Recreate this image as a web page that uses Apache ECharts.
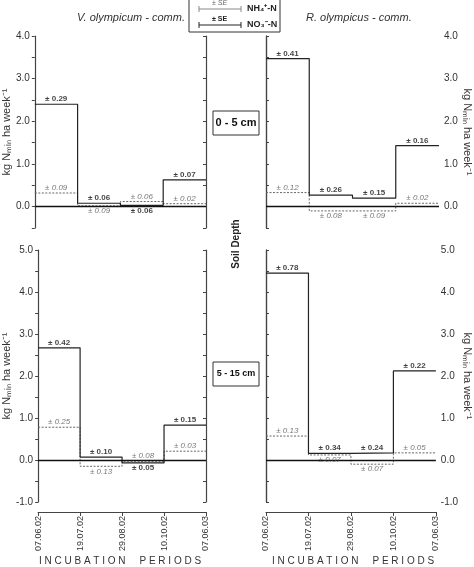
<!DOCTYPE html><html><head><meta charset="utf-8">
<script src="https://cdn.jsdelivr.net/npm/echarts@6/dist/echarts.min.js"></script>
<style>html,body{margin:0;padding:0;background:#fff}#c{width:474px;height:567px}</style></head><body><div id="c"></div>
<script>
const dates=['07.06.02','19.07.02','29.08.02','10.10.02','07.06.03'];
const titles=['V. olympicum - comm.','R. olympicus - comm.'];
const no3_TL=[2.40,0.08,0.03,0.63], nh4_TL=[0.32,0.02,0.12,0.07];
const no3_TR=[3.47,0.27,0.20,1.43], nh4_TR=[0.33,-0.10,-0.10,0.08];
const no3_BL=[2.67,0.07,-0.07,0.83], nh4_BL=[0.78,-0.15,-0.03,0.21];
const no3_BR=[4.45,0.16,0.17,2.12], nh4_BR=[0.57,0.12,-0.10,0.17];
const se_no3_TL=['0.29','0.06','0.06','0.07'], se_nh4_TL=['0.09','0.09','0.06','0.02'];
const se_no3_TR=['0.41','0.26','0.15','0.16'], se_nh4_TR=['0.12','0.08','0.09','0.02'];
const se_no3_BL=['0.42','0.10','0.05','0.15'], se_nh4_BL=['0.25','0.13','0.08','0.03'];
const se_no3_BR=['0.78','0.34','0.24','0.22'], se_nh4_BR=['0.13','0.07','0.07','0.05'];
const pos_no3_TL=['top','top','bottom','top'], pos_nh4_TL=['top','bottom','top','top'];
const pos_no3_TR=['top','top','top','top'], pos_nh4_TR=['top','bottom','bottom','top'];
const pos_no3_BL=['top','top','bottom','top'], pos_nh4_BL=['top','bottom','top','top'];
const pos_no3_BR=['top','top','top','top'], pos_nh4_BR=['top','bottom','bottom','top'];

const panels=[
 {no3:no3_TL,nh4:nh4_TL,sn:se_no3_TL,sh:se_nh4_TL,pn:pos_no3_TL,ph:pos_nh4_TL},
 {no3:no3_TR,nh4:nh4_TR,sn:se_no3_TR,sh:se_nh4_TR,pn:pos_no3_TR,ph:pos_nh4_TR},
 {no3:no3_BL,nh4:nh4_BL,sn:se_no3_BL,sh:se_nh4_BL,pn:pos_no3_BL,ph:pos_nh4_BL},
 {no3:no3_BR,nh4:nh4_BR,sn:se_no3_BR,sh:se_nh4_BR,pn:pos_no3_BR,ph:pos_nh4_BR}
];
const grids=[{left:33,width:173,top:36,height:192},{left:266,width:173,top:36,height:192},
 {left:33,width:173,top:250,height:252},{left:266,width:173,top:250,height:252}];
const txt='#333', ax='#444';
const yAxis=[],xAxis=[],series=[];
grids.forEach((g,i)=>{
 const top=i<2, leftSide=i%2===0;
 const rng=top?{min:-0.5,max:4}:{min:-1,max:5};
 const base={gridIndex:i,type:'value',...rng,interval:0.5,splitLine:{show:false},
   axisLine:{show:true,lineStyle:{color:ax,width:1.2}},axisTick:{show:true,length:3,lineStyle:{color:ax}}};
 const labelled={...base,position:leftSide?'left':'right',
   axisLabel:{color:txt,fontSize:10,fontFamily:'Liberation Sans',margin:5,
     formatter:v=>Math.abs(v-Math.round(v))<1e-6?v.toFixed(1):''},
   name:'kg N\u2098\u1d62\u2099 ha week\u207b\u00b9',nameLocation:'middle',nameGap:20,
   nameRotate:leftSide?90:-90,nameTextStyle:{color:txt,fontSize:11,fontFamily:'Liberation Sans'}};
 const plain={...base,position:leftSide?'right':'left',axisLabel:{show:false},axisTick:{show:true,inside:true,length:3,lineStyle:{color:ax}}};
 yAxis.push(labelled,plain);
 xAxis.push({gridIndex:i,type:'value',min:0,max:4,interval:1,show:!top,position:'bottom',offset:10,
   axisLine:{onZero:false,lineStyle:{color:ax,width:1.2}},axisTick:{length:4,lineStyle:{color:ax}},splitLine:{show:false},
   axisLabel:{rotate:90,margin:4,color:txt,fontSize:9,fontFamily:'Liberation Sans',formatter:v=>dates[v]}});
 const p=panels[i];
 const step=a=>[[0,a[0]],[1,a[1]],[2,a[2]],[3,a[3]],[4,a[3]]];
 series.push({type:'line',xAxisIndex:i,yAxisIndex:2*i,step:'end',symbol:'none',data:step(p.nh4),
   lineStyle:{color:'#666',width:1,type:[2,1.5]},z:2,silent:true});
 series.push({type:'line',xAxisIndex:i,yAxisIndex:2*i,step:'end',symbol:'none',data:step(p.no3),
   lineStyle:{color:'#222',width:1.2},z:3,silent:true,
   markLine:{symbol:'none',silent:true,label:{show:false},lineStyle:{color:'#111',width:1.3,type:'solid'},data:[{yAxis:0}]}});
 const lab=(vals,se,pos,bold)=>vals.map((v,k)=>({value:[k+0.5,v],
   label:{show:true,position:pos[k],distance:1,formatter:'\u00b1 '+se[k],fontSize:8,
     fontFamily:'Liberation Sans',fontWeight:bold?'bold':'normal',fontStyle:bold?'normal':'italic',color:bold?'#111':'#555'}}));
 series.push({type:'scatter',xAxisIndex:i,yAxisIndex:2*i,symbolSize:0,data:lab(p.no3,p.sn,p.pn,true),z:5,silent:true});
 series.push({type:'scatter',xAxisIndex:i,yAxisIndex:2*i,symbolSize:0,data:lab(p.nh4,p.sh,p.ph,false),z:5,silent:true});
});
const F='Liberation Sans';
const graphic=[
 {type:'text',top:12,left:77,style:{text:titles[0],font:'italic 11px '+F,fill:txt}},
 {type:'text',top:12,left:306,style:{text:titles[1],font:'italic 11px '+F,fill:txt}},
 {type:'rect',shape:{x:189,y:-1,width:91,height:33},style:{fill:'#fff',stroke:'#333',lineWidth:1}},
 {type:'line',shape:{x1:199,y1:9,x2:241,y2:9},style:{stroke:'#888',lineWidth:1}},
 {type:'line',shape:{x1:199,y1:6,x2:199,y2:12},style:{stroke:'#888',lineWidth:1}},
 {type:'line',shape:{x1:241,y1:6,x2:241,y2:12},style:{stroke:'#888',lineWidth:1}},
 {type:'text',x:212,y:0,style:{text:'± SE',font:'italic 7px '+F,fill:'#666'}},
 {type:'text',x:247,y:4,style:{text:'NH\u2084\u207a-N',font:'bold 9px '+F,fill:'#222'}},
 {type:'line',shape:{x1:199,y1:25,x2:241,y2:25},style:{stroke:'#222',lineWidth:1}},
 {type:'line',shape:{x1:199,y1:22,x2:199,y2:28},style:{stroke:'#222',lineWidth:1}},
 {type:'line',shape:{x1:241,y1:22,x2:241,y2:28},style:{stroke:'#222',lineWidth:1}},
 {type:'text',x:212,y:16,style:{text:'± SE',font:'bold 7px '+F,fill:'#222'}},
 {type:'text',x:247,y:20,style:{text:'NO\u2083\u207b-N',font:'bold 9px '+F,fill:'#222'}},
 {type:'rect',shape:{x:213,y:111,width:46,height:24},style:{fill:'#fff',stroke:'#333',lineWidth:1}},
 {type:'text',x:236,y:123,style:{text:'0 - 5 cm',font:'bold 11px '+F,fill:'#111',align:'center',verticalAlign:'middle'}},
 {type:'rect',shape:{x:213,y:362,width:46,height:24},style:{fill:'#fff',stroke:'#333',lineWidth:1}},
 {type:'text',x:236,y:374,style:{text:'5 - 15 cm',font:'bold 9px '+F,fill:'#111',align:'center',verticalAlign:'middle'}},
 {type:'text',x:236,y:244,rotation:Math.PI/2,style:{text:'Soil Depth',font:'bold 10px '+F,fill:'#222',align:'center',verticalAlign:'middle'}},
 {type:'text',x:120,y:561,style:{text:'I N C U B A T I O N     P E R I O D S',font:'10px '+F,fill:txt,align:'center',verticalAlign:'middle'}},
 {type:'text',x:353,y:561,style:{text:'I N C U B A T I O N     P E R I O D S',font:'10px '+F,fill:txt,align:'center',verticalAlign:'middle'}}
];
const chart=echarts.init(document.getElementById('c'));
chart.setOption({animation:false,grid:grids,xAxis,yAxis,series,graphic});
</script></body></html>
